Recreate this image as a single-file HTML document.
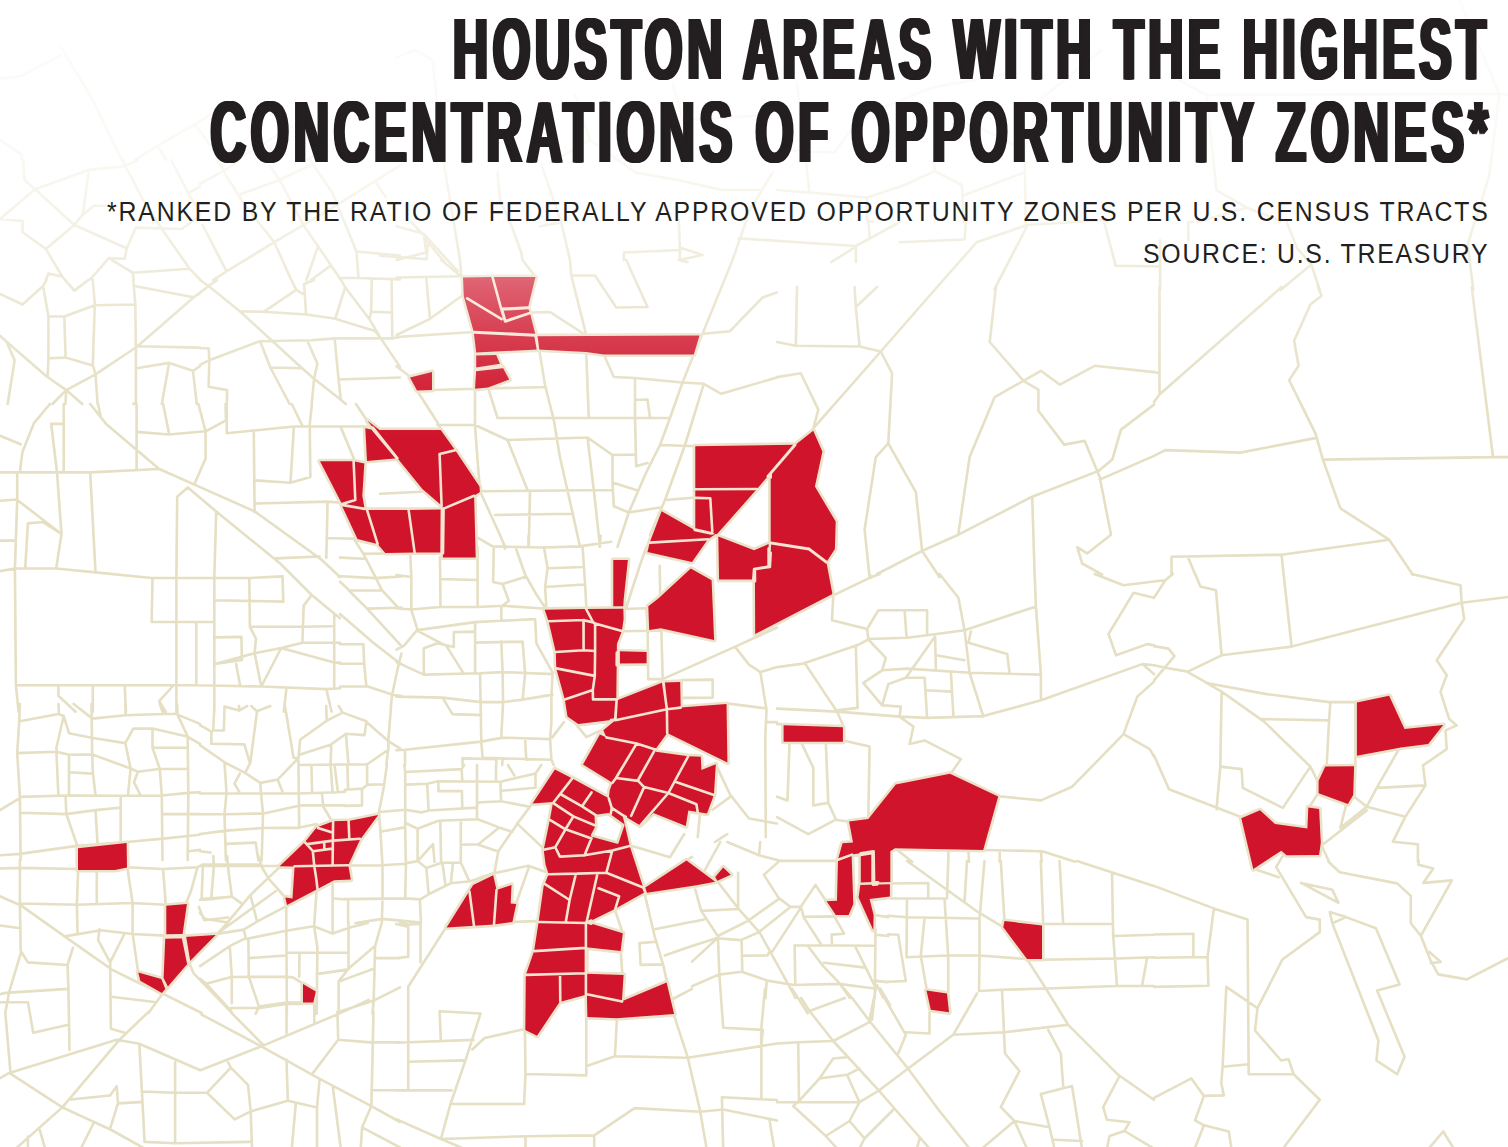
<!DOCTYPE html>
<html><head><meta charset="utf-8"><title>Houston Opportunity Zones</title>
<style>
html,body{margin:0;padding:0;background:#fff;}
body{width:1508px;height:1147px;overflow:hidden;font-family:"Liberation Sans",sans-serif;}
svg{display:block;}
.t{font-family:"Liberation Sans",sans-serif;font-weight:bold;fill:#231f20;}
.s{font-family:"Liberation Sans",sans-serif;font-weight:normal;fill:#231f20;}
</style></head><body>
<svg width="1508" height="1147" viewBox="0 0 1508 1147">
<defs>
<linearGradient id="fade" x1="0" y1="0" x2="0" y2="1">
<stop offset="0" stop-color="#fff" stop-opacity="0.9"/>
<stop offset="0.34" stop-color="#fff" stop-opacity="0.82"/>
<stop offset="0.5" stop-color="#fff" stop-opacity="0.6"/>
<stop offset="0.65" stop-color="#fff" stop-opacity="0.32"/>
<stop offset="0.77" stop-color="#fff" stop-opacity="0.17"/>
<stop offset="0.87" stop-color="#fff" stop-opacity="0.08"/>
<stop offset="1" stop-color="#fff" stop-opacity="0"/>
</linearGradient>
</defs>
<rect width="1508" height="1147" fill="#fff"/>
<path d="M0 139.8 L21.2 154.4 L22 160M134.8 160 L157.8 145.6 L195 124.4 L212.2 113.3M61 46.9 L92.8 100 L121.7 160M195 124.4 L220.9 160M157.8 145.6 L166.1 160M236 160 L265.3 142.4 L291.8 126.5M307.4 160 L318.3 153.1M265.3 142.4 L275.6 160M318.3 153.1 L320.9 160M0 78.8 L21.2 76.1 L61 54.9M0 293.9 L22.5 304.5 L43.1 286 L46.4 280M43.1 286 L48.4 316.5 L48.4 358.2 L47.7 376.8M65 280 L74.3 290.6 L88.2 280M92.8 280 L94.8 304.5 L92.8 364.9 L95.5 374.2 L97.6 404M48.4 316.5 L64.3 316.5 L94.8 305.2 L135.3 304.5M64.3 316.5 L65.6 357.6 L48.4 358.2M65.6 357.6 L92.8 365.5M133.3 280 L135.3 304.5 L135.9 349 L135.9 404M134.6 286 L193.6 297.2 L200 293.3M200 292.6 L193 297.9 L136.6 347 L95.5 374.4 L66.3 390.1 L52.4 404M137.9 346.3 L200 347.6M136.6 368.2 L169.1 362.9 L193 370.8 L200 366.2M169.1 362.9 L161.8 404 L161.8 404M193 370.8 L196.7 404M161.8 404 L161.8 404M0 335.7 L6.6 341.7 L46.4 376.2 L66.3 390.1M6.6 341.7 L14.6 360.2 L7.7 404M66.3 390.1 L65.4 404M66.3 390.1 L82.2 404M135.3 402.7 L133.4 404M200 280 L208.6 286 L239.8 311.2 L272.3 341 L302.1 368.2 L314.1 378.8 L338.6 398 L345.9 404M200 292.6 L208.6 286 L217.2 280M239.8 311.2 L263.7 311.8 L306.1 314.5 L334 318.5 L375.1 331.1 L380.4 337.7M263.7 311.8 L296.2 289.9 L291.5 280M296.2 289.9 L302.8 293.9M314.1 280 L304.1 284 L306.1 314.5M341.2 280 L345.2 287.3 L369.8 319.8 L380.4 337.7 L400 366.9M345.2 287.3 L335.3 318.5M371.8 280 L371.1 311.8 L369.5 319.1M371.1 311.8 L391.6 312.5M391.6 280 L392.3 338.4M200 364.9 L209.3 360.2 L259.7 341.3 L272.3 341 L311.4 340.3 L334.6 338.4 L392.3 338.4 L400 337M200 348.3 L208.6 348.3 L209.3 360.2 L208.6 386.8 L227.2 390.1 L226.9 404M260.3 341.7 L270.3 367.5 L289.6 404M270.3 367.5 L302.1 368.2M307.4 341 L317.4 363.6 L314.1 378.8 L311.7 404M334.6 338.4 L338.6 379.5 L340.6 398M338.6 379.5 L400 377.5M23.2 160 L24.5 179.9 L35.1 189.2 L0 219 L22.5 221 L22.5 232.3 L45.8 248.9 L74.3 225 L35.1 189.2M35.1 189.2 L88.9 169.9 L125.3 166 L137.9 160M123.3 160 L125.3 166 L143.2 199.8 L161.8 229 L189.7 268.8 L200 279.4M88.9 169.9 L82.9 214.4 L74.3 225M82.9 214.4 L94.2 205.8 L106.1 205.8M74.3 225 L126.7 248.2 L135.9 227.6 L181.7 229 L200 215.7M126.7 248.2 L124.7 258.8 L108.8 258.1 L91.5 278 L88.6 280M108.8 258.1 L132.6 272.7 L189.7 268.8M132.6 272.7 L133.7 280M45.8 248.9 L62.3 276.7 L65.3 280M62.3 276.7 L48.4 273.4 L46 280M91.5 278 L92 280M171.1 160 L188.3 193.2 L200 186.5M188.3 193.2 L200 213.1M200 183.9 L223.9 170.6 L239.8 160M217.2 160 L226.5 175.9 L243.8 203.8 L274.3 242.2 L291.3 280M202.7 225 L226.5 271.4 L213.1 280M226.5 271.4 L274.3 242.2 L303.4 225 L332.6 207.7 L375.1 181.2 L400 165.3M239.8 194.5 L279.6 179.9 L310.1 165.3M270.3 166.6 L279.6 179.9 L303.4 225 L318 246.2 L340.6 279.4 L340.9 280M310.1 160 L332.6 193.2 L356.5 251.5 L358.5 278M318 246.2 L306.4 280M311.2 280 L330 266.1M356.5 251.5 L400 255.5M340.6 278 L358.5 278 L400 279.4M371.1 279.4 L371.1 280M391 279.4 L391 280M375.1 181.2 L385.7 197.1M90.2 404 L106.1 423.9 L159.2 469 L192.3 483.6 L254.6 511.4 L321 559.2 L340 577M187.8 487.6 L216.2 511.4 L279.8 563.2 L311.7 595 L334.2 613.5 L340 618.2M0 435.8 L20.7 444.3M19.9 471.9 L22.5 451.7 L34 423.1 L49.9 404M0 472.4 L90.2 472.4 L159.2 469M63.7 404 L63.7 471.9M51.2 423.9 L63.7 423.9M51.2 423.9 L57 472.4 L61.5 534 L56.2 568.5M17.2 472.4 L17.2 500 L14.9 568.5 L15.9 685.2 L18.6 711.7M0 500.8 L17.2 499.5M17.2 500 L61.5 534M25.2 568.5 L27.9 523.4 L42.4 522 L61.5 534M0 540.6 L13.8 540.6M0 571.1 L14.9 568.5 L56.2 568.5 L95.5 572.4 L151.7 578 L249.3 578 L282.5 576.4M90.2 472.4 L95.5 572.4M136.6 404 L136.6 469M98.1 404 L100.8 417.3 L106.1 423.9M136.6 431.9 L169.2 434.5 L205.6 431.3 L226 420.4 L225.5 404M163.1 404 L169.2 434.5M198.4 404 L205.6 431.3 L205.6 458.4 L195 482.8M226.8 404 L226.8 433.2 L293.9 426.5 L367.4 426.5M293.9 426.5 L290.5 482.8 L310.3 476.9 L309.8 426.5M291.8 404 L302.4 425.8M311.9 404 L309.5 426.5M253.8 431.9 L254.6 512.2M254.6 480.4 L290.5 482.8M256 503.5 L327.6 501.6 L342.2 502.7M327.6 501.6 L326.3 557.8M326.3 538 L355.4 538.7M340.8 427.3 L354.9 461M367.4 421.2 L356 404M187.8 487.6 L177.2 496.8 L176.4 578 L176.4 711.7M216.2 512.2 L214.3 578 L214.3 711.7M152.5 578.5 L151.7 622 L214.3 622M196.3 622 L196.3 685.2M214.3 600.3 L282.8 601.6M282.5 576.4 L283.3 601.6M249.3 578 L249.9 626.8 L302.4 626.8 L331.6 626.3M311.7 595 L303.7 605.6 L302.4 642.7M302.4 642.7 L340 642.7M214.3 637.4 L241.4 636.9 L241.9 660 L214.9 663.9M249.9 626.8 L256 638.7 L254.6 653.3 L261.3 686.5M214.9 663.9 L254.6 653.3 L281.2 648 L302.4 642.7M281.2 648 L261.3 686.5M281.2 648 L334.2 662.6 L340 662.6M334.2 613.5 L334.2 687.8M15.9 685.2 L196.3 685.2 L261.3 686.5 L326.3 689.1 L340 688.2M236.1 663.9 L240.1 685.2M275.9 558.4 L319.6 556.5M338.2 576.4 L340 576.4M355.4 538 L356.5 540M58.4 685.7 L58.4 695.8 L75.6 711.7M92.8 685.7 L92.8 711.7M124.7 685.7 L126 711.7M172.4 686.5 L159.2 701.1 L165.8 711.7M286.5 687.8 L283.8 711.7M326.3 689.1 L331.6 711.7M19.9 704 L19.2 721.3 L17.2 753.1 L19.9 796.9 L20.6 860.1M19.9 721.3 L58.4 714 L63.7 716 L69 733.2 L91.5 737.8 L125.3 743.1 L133.3 728.6 L152.5 728.6 L187 736.5 L200 743.8M58.4 704 L59 714M73.6 704 L91.5 717.9M91.5 704 L92.2 754.4 L92.8 771.7 L95.5 795.5M92.8 718.6 L125.3 715.3 L163.1 714 L177.1 714M125.3 704 L125.7 715.3M159.8 704 L163.4 714M177.1 704 L177.5 714.6 L187.7 736.5 L188.3 795.5 L187.7 860.1M177.5 714.6 L200 723.9M63.7 716 L56.4 747.8 L56.4 751.8 L58.4 795.5M17.2 753.1 L56.4 751.8 L69 754.7 L92.2 754.4 L130 768.3 L137.9 771.7 L159.2 769 L187.7 769M69 754.7 L69 795.5M69.6 772.3 L91.5 773.6M125.3 743.1 L130.6 768.3 L128 795.5M137.9 771.7 L134 782.3 L140.6 795.5M152.5 728.6 L152.5 747.8 L159.8 769 L161.8 795.5 L162.5 860.1M152.5 747.8 L187 747.8M19.9 796.9 L66.3 795.5 L119.4 795.8 L161.8 795.5 L188.3 792.9 L200 792.2M0 810.1 L18.6 798.8M65.6 796.2 L66.3 814.1 L76.9 844.6M21.2 812.8 L66.3 814.1 L95.5 810.1 L119.4 807.7M95.5 810.1 L97.5 843.3M120.7 796.2 L120.7 842M162.5 814.1 L200 814.1M0 855.2 L19.9 853.9 L76.9 845.9 L127.3 842 L163.1 838.6 L200 834.7M188.3 851.2 L200 849.9M0 868.5 L19.9 867.9 L78.2 869 L127.3 867.2 L163.1 869 L197.6 867.2 L202.9 864.5 L261.3 864.5M19.9 860 L19.9 904.3 L20.7 950.7M19.9 903.5 L76.9 904.8 L131.3 903 L165.8 904.8M0 896.3 L21.2 905.6 L71.6 941.4 L111.4 969.3 L137.9 982.5 L161.8 993.1 L201.6 1013M0 925.5 L20.7 928.2M66.3 936.1 L100.8 930.3 L132.6 934 L165.8 935.6M96.8 869 L96.8 903.5M78.2 869 L76.9 904.8 L77.5 933.5M127.3 867.2 L132.6 903 L132.6 933.5 L137.9 970.6M163.1 869 L165.8 905.6M197.6 867.2 L191 891 L185.7 904.3M202.9 864.5 L201.6 899 L230.8 896.9M198.9 906.9 L204.2 920.2 L228.1 917.5M275.9 891 L215.6 934.8 L188.9 961.8 L165.8 989.2 L148.5 1013M188.9 962.6 L193.6 973.3 L232.1 1013M200 866 L278.2 866M213.3 856 L213.9 866 L211.3 897.8M227.2 856 L227.9 866 L231.8 896.5 L211.3 899.1 L200 899.8M231.8 896.5 L241.1 903.1M258.4 856 L262.3 868 L268.3 877.9 L250.1 895.4 L225.9 924.3 L214.6 936.9M268.3 877.9 L280.2 866.6M268.3 878.3 L276.9 887.9 L285.5 897.8M200 913.1 L205.3 919 L226.5 922.3M250.4 895.1 L257 921.3M286.9 905.8 L257 921.7 L243.8 929.6 L218.6 933.6M243.8 930 L245.8 938.2 L229.8 946.2 L200 966.1M246.2 938.9 L284.9 931 L313.7 926.3 L332.6 933.6 L349.9 927.6 L367.9 923M286.2 906.4 L286.9 1013.8M316.7 888.5 L314.1 926.3 L317.4 947.5 L316.7 1013.8M332.6 881.2 L332.6 933.6M334.6 898.5 L345 899.5M348.5 923 L348.5 968.8M381.7 923 L375.1 946.2 L373.7 1000.6 L372.4 1013.8M229.8 946.2 L231.8 976.7 L231.8 1003.2M248.4 939.6 L248.8 976.7M248.8 958.1 L286.2 955.5M286.9 952.8 L347.9 952.8M299.5 952.8 L299.2 976.7M205.3 984 L231.2 977 L284.9 976.7 L292.8 977.4 L302.8 983.3M200 978.7 L206.6 984 L231.2 1011.2M248.8 976.7 L259 1006.6 L286.2 1002.6 L303.4 1002.6M259 1006.6 L255.7 1013.8M316.7 974.1 L348.5 969.4M348.5 968.8 L338.6 981.4 L338.6 1013.8M374.4 946.5 L349.2 968.1M339.3 981.4 L373.7 968.8M375.1 958.1 L400 958.1M338.6 1012.1 L373.7 1000.6 L400 987.3M0 994.2 L5.3 992.9 L68.4 988.9M0 1002.2 L27.9 1002.2 L33.2 1032.7 L68.4 1024.7M72.9 947.8 L67.6 965 L68.4 988.9 L69.5 1049.9M21.2 951.8 L27.9 962.4 L67.6 965M21.2 951.8 L9.3 991.5 L5.3 1012.8 L10.6 1073.8M110.1 959.7 L110.9 1028.7 L124.7 1032.7M111.4 996.8 L156.5 1002.2M99.5 929.2 L98.1 939.8 L110.1 962.4 L124.1 934.5M214.3 706 L213.3 730.5 L223.9 730.5 L224.5 706.6 L239.1 710.6 L239.1 706M239.1 710.6 L247.2 706M251.2 706 L257 711.3 L270.3 706M257 711.3 L250.4 762.3 L245.1 772.9M200 725.2 L211.9 731.8M211.3 731.8 L211.3 743.8 L244.4 744.4 L249.7 762.3M200 745.1 L224.5 762.3 L245.1 772.9 L260.3 782.9 L277.6 779.6 L298.1 758.4M224.5 762.3 L226.5 792.8 L224.5 814.1 L225.9 860.5M285 706 L293.5 757.7 L298.1 758.4M239.8 773.6 L234.5 783.6 L239.8 792.8M260.3 782.9 L261 792.8 L263 814.1 L261.7 860.5M277.6 779.6 L282.9 792.8M200 793.5 L261 793.5 L298.1 793.5 L337.9 792.2 L345 791.6M299.2 828 L298.8 793.5 L298.4 758.4 L300.1 739.8 L326 721.2 L342.6 712.6 L338.8 706M326.2 706 L326.7 721.2M342.6 712.6 L366.4 721.2 L364.5 735.1 L345.9 733.8 L331.3 744.4 L300.1 754.4M366.4 721.9 L388.3 741.1M391.1 706 L388.3 741.1 L388.3 749.1 L386.3 765M388.3 741.1 L400 748.4M388.3 749.7 L367.1 764.3 L300.1 765M331.3 744.4 L330.6 765M345.9 733.8 L348.5 765M311.4 765.6 L312.1 792.8M330.6 765 L332.6 792.8M334.6 765.6 L337.9 792.2M367.1 764.3 L367.1 765M322 794.2 L323.3 806.8 L330.6 818.7M299.5 805.4 L345 805.4M200 814.3 L226.5 814.3 L263.7 813.4 L298.8 805.8M200 834 L226.5 830.6 L263 828 L299.5 827.6 L316.7 824M225.9 843.9 L255.7 842.6 L258.4 860.5M200 851.2 L210.6 852.5M0 1078.2 L9.3 1072.9 L116.7 1039.8 L139.3 1043.8 L200.3 1070.3 L261.3 1046.4 L336.9 1014.6 L368.7 1000M148.5 1011.9 L119.4 1039.8 L62.3 1107.4 L15.9 1148.5M9.3 1072.9 L62.3 1107.4 L111.4 1130 L144.6 1148.5M201.6 1014.6 L261.3 1046.4 L318.3 1078.2 L371.4 1106.1 L400 1122M231.6 1013 L263.9 1045.6M230.8 1008 L259.9 1008 L286.5 1004 L303.7 1004M286.5 1004 L286.5 1033.2M314.3 1004 L314.3 1022.5M337.4 1011.9 L338.2 1039.8 L313 1072.9M338.2 1039.8 L370 1042.4 L400 1042.4M373.5 1011.9 L371.4 1106.1 L362.1 1127.3 L360.7 1148.5M362.1 1127.3 L400 1147.5M371.4 1090.2 L400 1090.2M139.3 1043.8 L141.9 1091.5 L144.6 1141.9 L175.1 1143.2 L249.3 1141.9M141.9 1091.5 L175.1 1092.8 L206.9 1092.8 L230.8 1067.6 L248 1084.9 L250.7 1111.4 L252 1148.5M228.1 1062.3 L230.8 1067.6M175.1 1062.3 L175.1 1143.2M206.9 1092.8 L234.7 1119.4 L250.7 1111.4 L287.8 1100.8 L317 1107.4M286.5 1059.7 L287.8 1100.8M319.6 1079.6 L317 1107.4 L317 1148.5M295.8 1103.4 L291.8 1148.5M332.9 1087.5 L340.8 1148.5M70.3 1099.5 L110.1 1095.5 L116.7 1086.2 L118 1103.4 L110.1 1128.6M118 1103.4 L140.6 1102.1M94.2 1122 L80.9 1148.5M39.8 1130 L45.1 1148.5M27.9 1136.6 L27.9 1148.5M443.8 163.8 L448.8 192.5 L460 260M396.5 226.2 L423.8 233.8 L426.2 252.5 L396.5 260M423.8 233.8 L457.5 271.2M497.5 172.5 L500 200 L511.2 225 L521.2 252.5 L522.5 260M541.2 163.8 L550 190 L561.2 222.5 L570 260M561.2 222.5 L540 226.2M623.8 260 L623.8 252.5 L680 250 L679.5 260 L702.5 255 L680 247.5M678.8 220 L680 250M772.5 172.5 L750 210 L732.5 260M635 172.5 L677.5 180 L722.5 190 L760 190M672.5 82.5 L682.5 120 L770 115M396.5 57.5 L415 50 L432.5 60 L443.8 163.8M575 95 L590 140 L550 162.5M590 140 L635 172.5M396.5 608.3 L411.3 609.5 L440 607 L477.6 607 L502.6 605.8 L546.4 608.8M410 547 L411.3 577 L411.3 609.5M440 557 L440.5 607M477.6 547 L477.6 607M396.5 575 L411.3 577M440 579 L476.3 580M493.8 547 L493.1 582 L502.6 584 L526.3 576.5M502.6 584 L508.8 600.8 L502.6 605.8M516.3 549.5 L525.1 574.5 L536.4 594.5 L546.4 609.5M543.9 547 L547.6 568.3 L545.1 587 L546.4 608.3M547.6 568.3 L582.6 567M545.1 587 L583.9 584.5M582.6 547 L585.1 584.5 L586.4 608.3M411.3 610 L417.5 629.6 L403.8 645.8 L396.5 649.6M417.5 630.1 L475.1 622.1 L501.3 620.8 L535.1 619.1M501.3 605.8 L501.3 620.8M475.1 622.1 L475.1 673.3M475.1 642.6 L522.6 641.6M453.8 632.1 L473.8 631.6M453.8 632.1 L453.8 647.1 L437.5 643.3 L423.8 648.3 L423.8 674.6M417.5 630.8 L446.3 645.8 L462.5 671.6M396.5 662.1 L423.8 674.6 L480.1 673.3 L502.6 672.1 L552.6 674.1M501.3 641.6 L502.6 672.1M522.6 641.6 L525.1 673.3 L522.6 699.6M535.1 619.1 L536.4 643.3 L553.1 673.3M480.1 673.3 L480.6 702.1 L481.3 742.1M502.6 672.1 L503.1 702.1 L501.3 737.1M396.5 696.6 L442.5 697.6 L452.5 714.1 L481.3 715.1M442.5 697.6 L480.6 702.1 L503.1 702.1 L522.6 699.6 L552.6 694.6M552.6 674.1 L551.4 694.6 L551.4 722.1 L550.1 739.1M552.1 737.6 L563.9 722.1M396.5 750.2 L405 749.7 L481.3 741.6 L502.6 737.6 L550.1 739.1M405 749.7 L405 765M525.1 738.4 L526.3 759.7M481.3 742.1 L482.6 757.7 L502.6 758.4 L551.4 759.7M550.1 739.1 L551.4 759.7 L553.7 765M555 767.8 L555.6 769.2M462.5 758.4 L462.5 765M462.5 758.4 L496.3 759.2 L496.3 765M502.6 758.4 L502.2 765M572.6 720.1 L586.4 737.1 L601.4 730.1M623.9 609 L646.4 608.3 L647.7 630.8 L620.2 631.3M647.7 630.8 L661.4 630.8 L662.7 679.1 L648.2 679.1 L647.7 630.8M659.7 565.8 L660.7 630.8M646.4 547 L640.2 564.5 L626.4 607M662.7 679.1 L735.3 646.6 L777 627.6M681.5 680.1 L712.7 679.6 L712.7 697.6 L681.5 697.9 L681.5 680.1M735.3 647.1 L749 664.6 L760.3 672.1 L766.5 709.6 L765.3 737.1 L765.8 837.2M760.3 672.1 L777 667.1M765.8 722.1 L777 722.1M726.5 703.4 L766.5 708.4M717.7 768.4 L730.2 794.7 L749 818.5 L777 823.5M731.5 795.9 L712.7 809.7M700.2 812.2 L697.7 837.2M420.5 923 L420.5 962.2M446.4 926.7 L408.2 986.8 L408.2 1090.4 L396.2 1090.4M396.2 924 L408.2 926.7 L408.2 956.7 L396.2 958.1M439.6 1011.3 L480.5 1013.5 L465.5 1060.4 L450.5 1104 L440.9 1139 L396.2 1119.1M439.6 1011.9 L440.9 1041.3M396.2 1042.7 L473.6 1039.9M408.2 1061.8 L464.1 1060.4M408.2 1090.4 L451.8 1090.4M472.3 1049.5 L484.6 1038 L524.9 1029M524.9 1030.4 L525.5 1074 L524.1 1104 L450.5 1104M526 1074 L586.3 1075.4 L586.3 1016.8M586.9 1065.9 L614.9 1056.3 L616.9 1019.5M614.9 1056.3 L687.8 1057.7 L777 1043.5M673.6 1014 L687.8 1057.7 L700.1 1110.9 L706.9 1150.4M440.9 1139 L525.5 1136.2 L594.2 1135.4 L634.6 1108.1 L700.1 1111.7 L723.2 1109.5M525.5 1136.2 L525.5 1150.4M594.2 1135.4 L594.2 1150.4M440.9 1139 L468.2 1150.4M721.9 1097.2 L723.2 1150.4M721.9 1097.2 L777 1100M723.2 1109.5 L777 1120.4M761.4 1044 L761.4 1098.6M645 895.4 L655 937.7 L663.2 964.9 L674.1 1014M615.5 911.7 L622.9 933.3M620.7 951 L622.3 973.7M656.4 941.7 L639.5 943.1 L640.6 964.9 L662.4 964.4M653.7 929.5 L692 921.8M721 998 L723.2 1027.7 L762.8 1029.9 L761.4 1044M664.6 955.4 L692 946M672.8 999 L692 988.8M686.4 860.5 L692 856.9M715 842 L723.2 836.7 L727.3 834M630.5 845.5 L670 857.2 L684.2 834M777 190 L809.5 192.5 L867 197.5 L904.5 185 L934.5 171.2 L962 185 L963.8 222M873 222 L867 220 L867 197.5M934.5 150 L934.5 171.2M964.5 195 L1024.5 172.5M1024.5 150 L1025.7 222M1074.5 222 L1107 220 L1107.3 222M777 150 L834.5 152.5 L859.5 117.5 L932 87.5 L1002 75M797 82.5 L809.5 192.5M1024.5 150 L984.5 130 L957 120M1024.5 150 L1039.5 100 L1102 50M777 342 L795.8 345.8 L859.6 346.5 L880.8 351.5M797 287 L795.8 345.8M854.6 287 L855.8 307 L859.6 346.5M855.8 307 L877.1 287M937.1 287 L880.8 351.5 L813.3 428.4M880.8 351.5 L892.1 373.3 L888.3 443.4 L915.9 492.2 L922.1 550.9 L939.6 577.2M888.3 443.4 L875.8 457.1 L864.6 529.7 L869.6 577.2M777 377.1 L800.8 373.3 L818.3 409.6 L813.3 428.4M995.9 287 L989.7 342 L1023.4 380.8 L1038.4 389.6 L1038.4 410.8 L1064.2 444.6 L1084.7 440.9 L1099.7 477.1 L1111 534.7 L1087.2 553.4 L1077.2 547.2 L1082.2 563.5 L1102.2 574.7M1023.4 380.8 L994.7 397.1 L969.6 457.1 L958.4 533.4M1023.4 380.8 L1040.9 370.8 L1059.7 384.6 L1094.7 365.8 L1154 372.1M877.1 574 L922.1 550.9 L958.4 534.7 L1032.2 496.7 L1098.5 470.9 L1112.3 459.6 L1121 429.6 L1154 404.6M1032.2 496.7 L1034.7 577.2M1099.7 479.6 L1154 455.9M833.3 595.3 L869.6 577.8 L879.6 574M869.6 574 L870.8 577.8M833.3 595.3 L832 620.3 L867.1 629 L878.3 610.3 L927.1 610.3 L927.1 635.3M904.6 610.3 L906.6 637.8M867.1 629 L868.3 639 L907.1 637.8 L927.1 635.3 L964.6 630.3 L1035.9 606.5 L1034.7 574M939.6 574 L958.4 597.8 L964.6 630.3 L969.6 672.8 L983.4 716.6M1035.9 606.5 L1040.9 674.1 L1040.9 700.3M970.9 631.5 L968.4 642.8 L1007.2 654.1 L1009.7 674.1M777 667.1 L803.3 663.6 L857.1 645.3 L868.3 639.5M804.5 662.8 L837 711.6M855.8 645.3 L857.6 707.9 L837 710.4M868.3 639.5 L885.8 657.8 L882.1 670.3 L863.3 682.8 L882.1 705.3 L900.8 706.6 L899.6 716.6M882.1 670.3 L907.1 668.6 L969.6 672.8 L1040.9 674.6M934.1 637.8 L912.1 669.1 L905.8 677.8M935.1 636.5 L935.9 670.3M935.9 655.3 L964.6 660.3M882.1 705.3 L888.3 684.1 L905.8 677.8 L924.6 677.8 L927.1 717.9M925.9 690.3 L952.1 691.6M950.9 672.8 L953.4 715.4M777 708.6 L837 711.6 L899.6 716.6 L927.1 717.9 L983.4 716.1 L1040.9 700.3 L1142.3 664.1 L1154 665.3M837 711.6 L842.5 724.1M899.6 716.6 L913.4 726.6 L909.6 744.1 L924.6 740.4 L960.9 759.1 L950.9 773.4M1142.3 664.1 L1154 674.1M1154 681.6 L1137.3 696.6 L1123.5 734.1 L1072.2 786.7 L1040.9 800.4 L998.4 796.2M1123.5 734.1 L1149.8 749.1 L1154 756.6M1154 581.5 L1123.5 585.3 L1094.7 574M1154 597.8 L1133.5 592.8 L1108.5 634 L1116 655.3 L1147.3 644.1 L1154 645.3M789.5 742.9 L787.5 800.4 L777 796.7M802 744.1 L813.3 767.9 L813.3 805.4 L828.3 802.9M825.8 742.1 L828.3 802.9 L835.8 819.2M843.3 740.4 L869.6 746.6 L868.3 816.7M777 817.2 L808.3 834.2 L835.8 819.7 L849.1 821.7M777 724.1 L783.3 724.1M895.1 848.2 L912.1 861.7M983.2 850 L1042.2 851.2 L1075 861.7M948.4 850.5 L948.4 861.7M968.4 850.5 L969.1 861.7M999.7 851.2 L999.7 861.7M1040.9 851.2 L1041.7 861.7M907 861 L978.2 912.2 L1003.2 927.2M1027 959 L1045.8 988.5 L1068.2 1024.8 L1118.2 1074.8 L1153.8 1099.8M801.2 998 L809.5 1011 L833.2 1041 L878.2 1089.8 L894.5 1108.5 L929.5 1148.5M852.2 998 L869.5 1021 L907 1067.2 L939.5 1111 L969.5 1148.5M884.6 998 L905.8 1034.8 L898.2 1053.5M874.3 998 L872 1019.8M888 915.8 L907 917.2 L979.5 918.5M888 934.3 L898.2 934.8 L905.8 981 L888 981.7M907 898.5 L906.5 956M890.8 898.5 L944.5 898.5 L948.2 956 L948.2 992.2M924.5 918.5 L920.8 956 L927 991M929.5 1012.2 L929.5 1033.5 L905.8 1032.2M889.5 883.5 L928.2 883 L928.2 897.2M906.5 957.2 L947 955.5 L979.5 955.5 L1027 959M984.5 861 L979.5 918.5 L979.5 955.5 L979 991M948.2 861 L947 898.5M967 861 L964.5 902.2M1000.8 861 L1004.5 921M1040.8 861 L1043.2 923.5M1059.5 861 L1063.2 923.5M1043.2 924 L1112 924M1112 873.5 L1113.2 936 L1117 986M1077 861 L1153.8 886M1113.2 936 L1153.8 934.8M1042 959.8 L1117 958.5 L1153.8 957.2M1147 958.5 L1142 986M979 991 L1002 989.8 L1047 988.5 L1117 986 L1153.8 986M977 993.5 L953.2 1034.8 L908.2 1068.5 L878.2 1091M953.2 1034.8 L1004.5 1032.2 L1068.2 1024.8M1002 989.8 L1005 1053.5 L1019.5 1071 L1000.8 1107.2 L1014.5 1121 L1027 1148.5M1014.5 1121 L982 1148.5M1048.2 1029.8 L1060.8 1053.5 L1063.2 1086M1072 1086 L1040.8 1094 L1049.5 1127.2 L1014.5 1121M1072 1086 L1082 1148.5M1049.5 1127.2 L1054.5 1148.5M1054.5 1139.8 L1082 1141M1119.5 1076 L1103.2 1107.2 L1107 1119.8 L1129.5 1122.2 L1124.5 1131 L1153.8 1148.5M1124.5 1131 L1109.5 1136 L1107 1148.5M777 1043.5 L798.2 1042.2 L832 1041M798.2 1042.2 L799 1101M809.5 1011 L844.8 998M833.2 1041 L869.5 1022.2M833.2 1058.5 L847 1057.2M799 1101 L819.5 1078.5 L833.2 1058.5M819.5 1078.5 L847 1074.8 L859.5 1068.5M847 1074.8 L859.5 1102.2 L777 1102.2M793.2 1106 L825.8 1136 L837 1148.5M793.2 1106 L799 1101M859.5 1102.2 L849.5 1121 L825.8 1136M859.5 1102.2 L878.2 1091M894.5 1108.5 L864.5 1138.5 L859.5 1148.5M849.5 1121 L864.5 1138.5M919.5 1138.5 L917 1148.5M1179 80.1 L1206.5 95.1 L1499.3 93.8 L1508 95.1M1459.2 0 L1499.3 93.8 L1489.3 175.1 L1475.2 222M1206.5 95.1 L1216.5 190.1 L1246.6 207.7 L1279.1 220.2 L1280.1 222M1246.6 207.7 L1197.5 222M1159.5 287 L1159.5 394.6M1154 372.1 L1159.5 373.3M1154 402.1 L1159.5 394.6 L1281.6 287M1317.9 287 L1321.6 295.8 L1310.4 304.5 L1294.1 340.8 L1298.6 365.8 L1289.1 380.1 L1315.4 433.4 L1322.9 459.6 L1340.4 508.4 L1389.2 539.7 L1412.9 574.7M1154 455.9 L1165.3 450.1 L1240.3 452.6 L1316.6 437.9M1322.9 459.6 L1493 457.1 L1508 457.1M1471.7 287 L1493 457.1M1389.2 539.7 L1281.6 554.7 L1171.5 556.7 L1171.5 574.7M1187.8 556.7 L1195.3 574.7M1281.6 554.7 L1283.6 574.7M1154 581.5 L1165.3 580.3 L1172.8 574M1165.3 580.3 L1154 597.8M1195.3 574 L1200.3 586.5 L1216 590.3 L1221.6 655.3M1283.6 574 L1291.6 646.6M1154 646.1 L1168.5 648.6 L1174.5 656.1 L1154 680.3M1154 665.3 L1165.3 667.8 L1187.8 671.6 L1221.6 655.3 L1291.6 646.6 L1461.7 602.8 L1508 597M1411.7 574 L1460.5 585.3 L1461.7 602.8 L1464.2 619 L1436.7 660.3 L1446.7 675.3 L1440.5 691.6 L1449.2 719.1 L1456.7 725.4 L1445.5 730.4 L1446.7 749.1 L1423 765.4 L1425.5 785.4 L1405.4 816.7 L1392.9 841.7 L1417.9 844.2 L1417.9 861.7M1187.8 672.1 L1207.8 683.3 L1266.6 694.1 L1329.1 702.1 L1356.7 702.1M1206.5 682.8 L1221.6 691.6 L1220.3 766.6 L1216.5 809.2M1221.6 691.6 L1264.1 721.6 L1310.4 766.6 L1319.1 784.2M1261.6 719.1 L1329.1 720.4M1330.4 702.1 L1329.1 720.4 L1326.6 766.6M1355.4 702.1 L1355.4 766.6M1154 755.4 L1169 789.2 L1240.3 816.7M1220.3 766.6 L1241.6 769.1 L1242.8 787.9 L1282.8 807.9 L1310.4 766.6M1319.1 791.7 L1307.9 809.2M1354.2 796.7 L1366.7 806.7 L1405.4 816.7M1400.4 746.6 L1376.7 787.9 L1366.7 806.7 L1340.4 827.9 L1346.6 802.9M1376.7 787.9 L1425.5 785.4M1366.7 810.4 L1321.6 845.5 L1329.1 861.7M1285.3 851.7 L1276.1 867.2M1154 885.9 L1213.8 908.4 L1247.5 919.6 L1248.7 1074.2 L1293.6 1074.2M1213.8 908.4 L1207.6 957 L1208.4 985.7 L1154 986.9M1154 934.5 L1193.4 933.8 L1193.4 957M1154 957.7 L1207.6 957M1252.5 868.5 L1278.7 877.2M1276.2 867.2 L1306.1 917.1 L1319.8 919.6 L1319.8 932.1 L1282.4 959.5 L1257.5 1008.1 L1255 1030.5 L1281.2 1060.5 L1288.6 1059.2 L1293.6 1074.2 L1319.8 1099.8 L1283.6 1147.7M1257.5 1008.1 L1226.3 986.9 L1222.6 1066.7 L1248.7 1064.2M1222.6 1066.7 L1221.3 1082.9 L1223.8 1095.4 L1203.9 1095.9 L1191.4 1078.4 L1154 1097.8M1203.9 1095.9 L1195.1 1120.3 L1203.9 1125.3 L1228.8 1131.5 L1231.3 1147.7M1203.9 1125.3 L1195.1 1147.7M1328.5 861.7 L1339.7 872.2 L1397.1 883.4 L1410.8 895.9 L1410.8 923.3 L1420.8 935.8 L1430.7 960.7 L1438.2 974.4 L1466.9 979.4 L1508 958.2M1420.8 935.8 L1451.9 880.4 L1423.3 882.9 L1433.2 868.5 L1418.3 864.7 L1418.8 861M1429.5 952 L1440.7 962 L1430.7 963.2M1301.1 882.9 L1332.3 889.7 L1338.5 902.9 L1301.1 882.9M1329.8 912.1 L1346 917.1 L1375.9 928.3 L1399.6 984.4 L1377.1 990.6 L1404.6 1056.7 L1397.1 1074.2 L1376.4 1060.5 L1378.4 1040.5 L1332.3 923.3 L1329.8 912.1M1332.3 923.3 L1346 917.1M1429.5 1147.7 L1443.2 1131.5 L1453.2 1147.7M720.3 842 L704.6 870.7M727.3 842 L759 855.3 L779.3 860.6 L836.4 860.9M760.2 842 L759 855.3M778.6 861.6 L763.9 874.9 L778.6 897.9 L790.4 906.7 L800.2 906.9M779.3 898.6 L747.9 920.9 L717.9 936M790.4 906.9 L759 932.1 L740.9 940.1 L716.5 938.3 L692 946.1M738.1 872.8 L738.1 909 L701.2 910.9 L695.3 889.5M695.3 889.5 L701.2 910.9 L717.9 936.2M717.2 881.1 L738.1 908.3 L759.7 932.7 L770.2 951.6 L793.2 993.4 L795.5 998M692 921.9 L703.9 919.5M716.5 939 L692 961.6M717.9 936.2 L719.3 973.9 L721.1 998M741.6 939.7 L742.3 971.8M742.3 955.8 L767.4 955.5 L770.2 950.9M692 986.2 L718.6 974.6 L741.6 971.8 L767.4 980.6 L793.9 985 L838.5 983.9 L874.8 988.5M766.7 980.2 L765.5 998M800.9 907.6 L772.3 951.6M800.9 906.7 L815.5 884.9 L826 901.1M801.6 909 L803.7 917.4 L821.1 944.3M803.7 916.7 L833.7 916.4M834.4 916.7 L844.1 933.7 L831.6 934.6 L832 944.3M794.6 945.3 L874.1 945.7M794.6 945.3 L795.3 984.4M808.5 946.7 L823.2 966.2 L839.9 983.7 L849.9 998M823.9 962.7 L865.7 967.6M855.3 946.7 L865.7 967.6 L875.5 987.8M875.5 929.3 L874.8 998M876.2 915.3 L888 917.1M876.2 934.8 L888 936M876.2 980.9 L888 982.1M876.9 985 L883.4 998M765 988.6 L761.2 1029.7 L761.2 1044.8M792 988.6 L807.7 1013.3M844 988.6 L851.5 997.5M875.9 988.6 L869.3 1020.8M880.3 988.6 L890 1005.1M769.4 1119.4 L774.2 1148.8M478 537.9 L492.5 546.4 L543.4 547.5 L579.5 546.4 L611.3 541.8M380 493.8 L421.4 491.7M503.1 546.4 L505.2 548.5M528.5 535.8 L528.5 547.5M599.6 546.4 L600.7 535.8M354.6 540 L363.4 553.9 L375.2 576.6 L381.7 589.8 L398.6 608.1 L401.5 609.1M401.5 653.4 L398.6 664.5 L392 695.3 L390.7 708M364.2 553.9 L384.7 553.5M340 557.6 L364.9 558.7M340 576.3 L375.9 578.1 L401.5 576.4M340 581.7 L349.5 590.5 L380.7 590.5M348.8 590.5 L367.1 608.6 L399.3 607.7 L401.5 607.6M367.1 608.6 L401.5 646.1M340 614 L373 642.5 L399.3 663 L401.5 664.1M340 644.3 L363.4 644.3M363.4 644.3 L364.2 663.8 L366.4 686.5M340 663.8 L363.4 663.8M340 686.5 L367.1 686.2 L393.5 695 L401.5 696M900 242.3 L964.5 239.5 L965.9 222M934.5 290 L976.6 242.3 L1027 225 L1074.9 222M1104.1 222 L1115.7 265.7 L1160.1 266.5M1027 226.2 L994.8 288.7 L994.6 290M1160.1 240.3 L1160.1 290M1188.3 240.3 L1188.3 222.2 L1193 222M1286.7 222 L1297.2 248.4 L1311.3 264.5 L1319.8 290M1311.3 264.5 L1280.5 290M1474.6 222.2 L1467.7 244.4 L1473.3 290M738.6 238.4 L855.9 246 L899.8 222M855.9 246.7 L831.4 262M855.9 246.7 L855.9 262M868.4 222 L869.7 239.1M380 255.7 L426.6 259.1 L428.3 239.8 L411.1 222M426.6 240.9 L444.6 262M400.2 923 L408.2 924.6 L420.7 923.6M386.9 765 L383.9 786.4 L378.8 812.7 L380.3 828.8 L382.5 865.5 L382.5 900.6 L381.8 923M404.3 765 L405.2 771.7 L405.2 827.4 L405.9 865.5 L405.2 898.4M347.4 765 L348.1 788.6M367.1 765 L367.1 784.9 L383.9 784.2M345 789.7 L362.7 788.6 L367.1 784.9M362 788.6 L362 805.4 L345 805.9M379.5 812 L405.2 809.8 L421.3 812.4 L428.6 810.5 L477 807.6 L477.7 802.5 L501.1 801.3 L529 806.6M405.6 772 L461.6 769.1 L464.2 765M405.9 784.6 L427.2 783.7 L438.1 781.2 L500.4 781.7 L535.5 773.5 L541.3 765M427.2 783.7 L428.6 810.5M438.4 782 L438.4 791.1 L461.9 791.1 L462.3 807.6M461.6 769.1 L462.3 781.2M477 765 L477 818.6M496 765 L496 781.2M507.9 765 L514.3 775.4M500.4 781.7 L501.1 801.3M501.1 790.8 L535.5 787.8 L535.5 773.5M405.9 823.3 L417.6 828.8 L438.4 820.8 L477.7 819.3 L498.9 827.4 L512.1 831.8M417.6 828.8 L417.6 861.1 L405.9 863.3M417.6 861.1 L426.4 868.1 L441.8 862.8 L460.8 862.5M417.6 861.1 L433 844.2 L434.5 861.8M440.3 821.5 L441.1 862.5M460.8 820.8 L460.8 862.5 L469.6 881.6M461.6 844.7 L478.4 844.2 L498.9 827.7M478.4 844.7 L498.2 851.5M426.4 868.4 L428.6 894M442.5 863.3 L445.5 885.2M452.8 864 L451 882.3M351 865.5 L382.5 865.2 L405.9 863.7M380.3 831.8 L404.4 827.4M345 899.1 L405.2 898.4 L420.6 899.4 L429.1 894 L450.6 883.3 L470.4 881.3 L493.1 873.1M419.8 899.4 L421 923M348.1 900.6 L348.1 923M355.4 923 L382.5 918.9 L420.6 922.6M512.1 831.8 L517.2 823.7 L530.4 806.1M518 824.4 L543.6 848.6M511.4 832.1 L498.2 851.5 L494.5 872.8M495.3 873.1 L528.2 865.8 L548 872.8M529 866.9 L515.8 904.3M513.6 921.9 L537 921.1M396.5 277.5 L463 276.2M460 260 L461.2 276.2M441.2 260 L458.8 274.5M426.2 277.5 L430 318.8M396.5 335 L430 318.8 L463 295M396.5 337 L473.8 332M396.5 366.2 L411.2 377.5 L417 390.5 L437.5 422.5 L441.2 430M417 390.5 L475 388.8 L545 387M476.2 352.5 L475 388.8 L475 425 L477.5 460 L480 490M488.8 390 L497.5 418 L670 418M537 336.2 L545 385 L553.8 420 L560 457.5 L572.5 512.5 L580 546.8M522.5 260 L535.5 277M570 260 L571.2 275 L586.2 335M571.2 275.5 L595 275.5 L616.2 307.5 L647.5 307 L626.2 260M586.2 352 L588.8 418M603.8 354.5 L613.8 377 L635 378 L682.5 382.5M635 378 L635 417.5 L636.2 466.2 L647.5 463M635 400 L647.5 399.5 L650 418M732.5 260 L702.5 333.8 L693.8 354.5 L682.5 382.5 L670 418 L660 445 L646.2 472.5 L628.8 512.5 L617.5 546.8M702.5 333.8 L730 331.2 L762.5 297.5 L776.8 292.5M678.8 260 L687.5 262M682.5 382.5 L703.8 383.8 L721.2 393.8 L776.8 377.5M703.8 383.8 L685 445 L665 500 L650 535M660 445 L696.2 446.2M437.5 425 L475 425 L507.5 440 L527.5 490M507.5 440 L587.5 437.5 L612.5 455 L635 454.5M587.5 437.5 L593.8 490 L600 546.8M612.5 455 L612.5 482.5 L636.2 490M612.5 482.5 L613.8 506.2 L628.8 512.5M480 491.2 L612.5 490M530 491.2 L528.8 546.8M480 491.2 L500 535 L505 546.8M495 515 L572.5 513.8M665 500 L696.2 497.5M628.8 512.5 L660 507.5M532.5 312.5 L550 312 L585.5 335" fill="none" stroke="#e5dfc3" stroke-width="2.6" stroke-linejoin="round" stroke-linecap="round"/>
<path d="M367.5 420.8 L379.6 430 L440.7 430 L455.2 450.3 L439.6 454.1 L441.6 505.6 L422.4 489.1 L397.4 458.3ZM365.3 428.3 L373.3 430 L397.1 458.3 L367 461ZM439.6 454.1 L455.2 450.3 L479.5 486.6 L479.9 491.9 L474.1 495.8 L443.6 508.6 L441.6 505.6ZM443.6 508.6 L474.1 495.8 L475.7 557.4 L442.9 557.4ZM408.6 509.9 L441.9 509.6 L441.6 552.4 L414.6 552.4ZM367 509.9 L408.6 509.9 L414.6 552.4 L385.3 552.9 L377.6 543.9ZM341.6 504.9 L364.6 508.9 L367 509.9 L377.6 543.9 L357.5 539.1ZM320 461.3 L353.6 461.3 L355.3 499.9 L342 503.9ZM353.6 461.3 L364.3 463.6 L362.3 495.8 L364.6 508.9 L341.6 504.9 L342 503.9 L355.3 499.9ZM548.6 874.3 L577.4 873.7 L606.3 872.8 L643.2 887.5 L645.2 892 L615.3 908.8 L587.4 922.5 L622.8 933.3 L620.6 951.1 L586.3 947.3 L585.9 973.8 L623.6 974.9 L621.9 1001.2 L666.6 982.4 L674.1 1014.1 L616.6 1018.2 L587.4 1016.9 L586.9 994.6 L562.5 1001.2 L559.6 1001.9 L537 1035.7 L525.3 1029.9 L525.8 974.9 L534.1 951.1 L538.6 922 L543.6 886.6ZM644.2 888.3 L686.5 860.5 L715.2 881.7 L696.5 885.3 L645.6 893ZM715.2 877 L723.2 867.5 L730.7 874.7 L717.4 880.8ZM544.7 609.7 L586.1 609 L593.3 622.5 L583.5 620 L548.6 621.3ZM586.1 609 L623.3 608.7 L623.6 619.1 L621.9 631.1 L595.1 623.5 L593.3 622.5ZM548.6 621.3 L583.5 620 L583.6 650.3 L555.8 652ZM583.6 620.3 L593.3 622.5 L595.1 623.5 L595.1 651 L583.6 650.3ZM555.8 652 L583.6 650.3 L595.1 651 L594.8 675.9 L556.3 668.4ZM556.3 668.4 L594.8 675.9 L592.8 690.1 L564.8 699.4ZM595.1 623.5 L621.9 631.1 L616.9 644.1 L616.3 699.3 L593 699.4 L592.8 690.1 L594.8 675.9 L595.1 651ZM564.8 699.4 L592.8 690.1 L593 699.4 L616.3 699.3 L616.6 700.6 L615.1 719.6 L578.3 724.1 L567.5 716.6ZM618.6 651.3 L646.6 652 L646.6 663.3 L618.6 663.6ZM616.6 700.6 L663.2 682.3 L665.2 696.6 L666.9 709.3 L615.4 720.2ZM663.6 682.6 L680.2 681.9 L680.7 707.6 L666.9 709.3 L665.2 696.6ZM613.3 560 L627.9 560 L623.6 600 L623.3 606.3 L613.3 606.3ZM666.9 709.3 L680.7 707.6 L726.5 704.1 L727.4 762.4 L667.2 732.9ZM603.3 730.2 L615.4 720.2 L666.9 709.3 L667.2 732.9 L655.2 749.4 L636.6 743.6 L606.6 737.4ZM599.9 734.6 L606.5 737.6 L636.6 743.6 L655.2 749.4 L655.9 751.8 L688.3 756.2 L700.8 756.8 L701.4 769.9 L715.8 764.3 L713.9 794.9 L707 813.6 L697.7 812.1 L688.3 810.4 L685.8 826 L653.4 812.9 L640.3 825.4 L622.3 814.8 L611.7 807.9 L608.8 798.3 L609.8 789.9 L612.5 782.8 L583 764.6ZM554.9 769.5 L572.4 778.4 L608.8 798.3 L611.7 807.9 L622.3 814.8 L624.8 824.8 L629.7 846 L643.2 887.5 L606.3 872.8 L577.4 873.6 L548.7 874.3 L545.6 864.7 L543.7 849.7 L549.9 819.8 L553.1 802 L532.5 803.6ZM695.3 446.3 L794.9 444.7 L756.9 489 L695.3 489.3ZM695.3 489.3 L756.9 489 L716.9 534.3 L695.3 529.6ZM813.2 430.8 L822.4 451.6 L814.9 486.6 L835.7 521.6 L834.9 549.1 L826.5 562.1 L809 548.7 L770.7 542.8 L770.7 473.3 L795.2 445ZM661.6 511.3 L694.6 529.9 L715.3 534.3 L707.9 539.3 L649.7 542.6ZM649.7 542.6 L707.9 539.3 L692 561.9 L647.5 551.9ZM718.3 536.6 L754.1 550.2 L768.6 544.1 L768.6 566.6 L754.1 569.1 L753.3 579.6 L719.1 579.6ZM771.2 543.3 L809 549.1 L826.5 562.4 L832.4 594.1 L755.2 634 L754.9 569.1 L769.9 566.9ZM690.8 568.6 L711.6 580.2 L714.1 639.9 L660.8 628.2 L649.2 629.9 L648.3 606.2 L658.3 598.5ZM849.1 821.6 L868.3 819.1 L895.8 784.6 L949.9 773.8 L998.2 796.6 L983.2 849.9 L894.9 848.3 L890.3 851.3 L890.3 881.9 L874.1 882.4 L873.6 851.3 L852 854.6 L838 859.6 L842.5 843.3 L853 842.4ZM860.8 854.9 L872.6 852.9 L872.6 881.9 L860.8 882.6ZM838 859.9 L851.6 854.9 L853.3 904.1 L848.6 914.9 L835.8 914.9 L826.6 901.2 L837 900.7ZM860.3 884.9 L889.9 884.2 L889.9 896.6 L869.6 899.1 L873.6 914.9 L873.3 929.9 L858.6 897.4ZM783.6 725.3 L842.9 727.3 L842.9 741.7 L783.6 741.7ZM1356.9 702.5 L1389.1 695.8 L1404.5 729.1 L1443.2 725 L1428.2 744.1 L1400.7 747.5 L1356.9 755.8ZM1325.3 766.6 L1354.1 766.3 L1353.2 794.9 L1347.9 804.1 L1318.6 793.3 L1318.6 780.8ZM1241.3 818.2 L1260 810.2 L1275 824.1 L1307.4 828.6 L1308.3 807.4 L1319.1 809.1 L1320.8 842.4 L1319.1 854.9 L1286.6 855.2 L1281.3 850.7 L1253.3 869ZM1004.5 921 L1042 925.5 L1042 959 L1027 959 L1003.3 927.3ZM926.5 990.5 L947 993.5 L949 1012.3 L930.8 1009.8ZM78 848.3 L126.6 843 L127 867.5 L115 870 L78 870ZM166.3 905.8 L186.9 904.1 L182.4 935.2 L166.3 935.6ZM165.3 937.4 L182.9 936.9 L188.2 962.9 L167.9 986.5 L163.6 977.9ZM184.9 936.9 L215.7 934.9 L189.1 961.9ZM279.6 866.3 L305 842 L316.6 827.5 L333.3 821.3 L349.9 820.8 L378.2 815 L359.9 840 L348.3 865.3 L350.8 879.6 L334.1 880.3 L317.5 889.1 L287 904.9 L285.3 897.4 L292.5 898.6 L294.6 866.6ZM138.3 972.4 L161.3 979.1 L165.3 989.1 L161.9 992.9 L140.3 980.8ZM446.6 927.5 L473.2 885 L493.2 875.3 L496.5 890 L511.5 885 L510.7 903.6 L516.2 904.1 L512.4 922 L494 924.6 L474 925.8ZM303 984.1 L315.8 991.6 L313.3 1002.4 L303 1002.4ZM463 277.5 L492.5 277 L501.2 308.8 L505 321.2 L463.8 296.2ZM492.5 277 L535.5 277 L528 307.5 L501.2 308.8ZM502 309.5 L528 308 L530 313 L505.5 321.5ZM463.8 296.2 L505 321.2 L530 313 L535.5 335 L473.8 332ZM473.8 332.5 L535.5 335.5 L538 349.5 L476.2 352.5ZM536.2 336.2 L699.5 335.5 L693.8 354.5 L603.8 354.5 L586.2 352 L538 349.5ZM476.2 355.5 L496.2 355 L500.5 365 L476.2 368.8ZM476.2 370 L502.5 367 L509.2 379.5 L488 387.5 L475 388.8ZM410 377.5 L432 372 L432 390 L417 390.5Z" fill="none" stroke="#ece2ca" stroke-width="5.2" stroke-linejoin="round"/>
<path d="M367.5 420.8 L379.6 430 L440.7 430 L455.2 450.3 L439.6 454.1 L441.6 505.6 L422.4 489.1 L397.4 458.3ZM365.3 428.3 L373.3 430 L397.1 458.3 L367 461ZM439.6 454.1 L455.2 450.3 L479.5 486.6 L479.9 491.9 L474.1 495.8 L443.6 508.6 L441.6 505.6ZM443.6 508.6 L474.1 495.8 L475.7 557.4 L442.9 557.4ZM408.6 509.9 L441.9 509.6 L441.6 552.4 L414.6 552.4ZM367 509.9 L408.6 509.9 L414.6 552.4 L385.3 552.9 L377.6 543.9ZM341.6 504.9 L364.6 508.9 L367 509.9 L377.6 543.9 L357.5 539.1ZM320 461.3 L353.6 461.3 L355.3 499.9 L342 503.9ZM353.6 461.3 L364.3 463.6 L362.3 495.8 L364.6 508.9 L341.6 504.9 L342 503.9 L355.3 499.9ZM548.6 874.3 L577.4 873.7 L606.3 872.8 L643.2 887.5 L645.2 892 L615.3 908.8 L587.4 922.5 L622.8 933.3 L620.6 951.1 L586.3 947.3 L585.9 973.8 L623.6 974.9 L621.9 1001.2 L666.6 982.4 L674.1 1014.1 L616.6 1018.2 L587.4 1016.9 L586.9 994.6 L562.5 1001.2 L559.6 1001.9 L537 1035.7 L525.3 1029.9 L525.8 974.9 L534.1 951.1 L538.6 922 L543.6 886.6ZM644.2 888.3 L686.5 860.5 L715.2 881.7 L696.5 885.3 L645.6 893ZM715.2 877 L723.2 867.5 L730.7 874.7 L717.4 880.8ZM544.7 609.7 L586.1 609 L593.3 622.5 L583.5 620 L548.6 621.3ZM586.1 609 L623.3 608.7 L623.6 619.1 L621.9 631.1 L595.1 623.5 L593.3 622.5ZM548.6 621.3 L583.5 620 L583.6 650.3 L555.8 652ZM583.6 620.3 L593.3 622.5 L595.1 623.5 L595.1 651 L583.6 650.3ZM555.8 652 L583.6 650.3 L595.1 651 L594.8 675.9 L556.3 668.4ZM556.3 668.4 L594.8 675.9 L592.8 690.1 L564.8 699.4ZM595.1 623.5 L621.9 631.1 L616.9 644.1 L616.3 699.3 L593 699.4 L592.8 690.1 L594.8 675.9 L595.1 651ZM564.8 699.4 L592.8 690.1 L593 699.4 L616.3 699.3 L616.6 700.6 L615.1 719.6 L578.3 724.1 L567.5 716.6ZM618.6 651.3 L646.6 652 L646.6 663.3 L618.6 663.6ZM616.6 700.6 L663.2 682.3 L665.2 696.6 L666.9 709.3 L615.4 720.2ZM663.6 682.6 L680.2 681.9 L680.7 707.6 L666.9 709.3 L665.2 696.6ZM613.3 560 L627.9 560 L623.6 600 L623.3 606.3 L613.3 606.3ZM666.9 709.3 L680.7 707.6 L726.5 704.1 L727.4 762.4 L667.2 732.9ZM603.3 730.2 L615.4 720.2 L666.9 709.3 L667.2 732.9 L655.2 749.4 L636.6 743.6 L606.6 737.4ZM599.9 734.6 L606.5 737.6 L636.6 743.6 L655.2 749.4 L655.9 751.8 L688.3 756.2 L700.8 756.8 L701.4 769.9 L715.8 764.3 L713.9 794.9 L707 813.6 L697.7 812.1 L688.3 810.4 L685.8 826 L653.4 812.9 L640.3 825.4 L622.3 814.8 L611.7 807.9 L608.8 798.3 L609.8 789.9 L612.5 782.8 L583 764.6ZM554.9 769.5 L572.4 778.4 L608.8 798.3 L611.7 807.9 L622.3 814.8 L624.8 824.8 L629.7 846 L643.2 887.5 L606.3 872.8 L577.4 873.6 L548.7 874.3 L545.6 864.7 L543.7 849.7 L549.9 819.8 L553.1 802 L532.5 803.6ZM695.3 446.3 L794.9 444.7 L756.9 489 L695.3 489.3ZM695.3 489.3 L756.9 489 L716.9 534.3 L695.3 529.6ZM813.2 430.8 L822.4 451.6 L814.9 486.6 L835.7 521.6 L834.9 549.1 L826.5 562.1 L809 548.7 L770.7 542.8 L770.7 473.3 L795.2 445ZM661.6 511.3 L694.6 529.9 L715.3 534.3 L707.9 539.3 L649.7 542.6ZM649.7 542.6 L707.9 539.3 L692 561.9 L647.5 551.9ZM718.3 536.6 L754.1 550.2 L768.6 544.1 L768.6 566.6 L754.1 569.1 L753.3 579.6 L719.1 579.6ZM771.2 543.3 L809 549.1 L826.5 562.4 L832.4 594.1 L755.2 634 L754.9 569.1 L769.9 566.9ZM690.8 568.6 L711.6 580.2 L714.1 639.9 L660.8 628.2 L649.2 629.9 L648.3 606.2 L658.3 598.5ZM849.1 821.6 L868.3 819.1 L895.8 784.6 L949.9 773.8 L998.2 796.6 L983.2 849.9 L894.9 848.3 L890.3 851.3 L890.3 881.9 L874.1 882.4 L873.6 851.3 L852 854.6 L838 859.6 L842.5 843.3 L853 842.4ZM860.8 854.9 L872.6 852.9 L872.6 881.9 L860.8 882.6ZM838 859.9 L851.6 854.9 L853.3 904.1 L848.6 914.9 L835.8 914.9 L826.6 901.2 L837 900.7ZM860.3 884.9 L889.9 884.2 L889.9 896.6 L869.6 899.1 L873.6 914.9 L873.3 929.9 L858.6 897.4ZM783.6 725.3 L842.9 727.3 L842.9 741.7 L783.6 741.7ZM1356.9 702.5 L1389.1 695.8 L1404.5 729.1 L1443.2 725 L1428.2 744.1 L1400.7 747.5 L1356.9 755.8ZM1325.3 766.6 L1354.1 766.3 L1353.2 794.9 L1347.9 804.1 L1318.6 793.3 L1318.6 780.8ZM1241.3 818.2 L1260 810.2 L1275 824.1 L1307.4 828.6 L1308.3 807.4 L1319.1 809.1 L1320.8 842.4 L1319.1 854.9 L1286.6 855.2 L1281.3 850.7 L1253.3 869ZM1004.5 921 L1042 925.5 L1042 959 L1027 959 L1003.3 927.3ZM926.5 990.5 L947 993.5 L949 1012.3 L930.8 1009.8ZM78 848.3 L126.6 843 L127 867.5 L115 870 L78 870ZM166.3 905.8 L186.9 904.1 L182.4 935.2 L166.3 935.6ZM165.3 937.4 L182.9 936.9 L188.2 962.9 L167.9 986.5 L163.6 977.9ZM184.9 936.9 L215.7 934.9 L189.1 961.9ZM279.6 866.3 L305 842 L316.6 827.5 L333.3 821.3 L349.9 820.8 L378.2 815 L359.9 840 L348.3 865.3 L350.8 879.6 L334.1 880.3 L317.5 889.1 L287 904.9 L285.3 897.4 L292.5 898.6 L294.6 866.6ZM138.3 972.4 L161.3 979.1 L165.3 989.1 L161.9 992.9 L140.3 980.8ZM446.6 927.5 L473.2 885 L493.2 875.3 L496.5 890 L511.5 885 L510.7 903.6 L516.2 904.1 L512.4 922 L494 924.6 L474 925.8ZM303 984.1 L315.8 991.6 L313.3 1002.4 L303 1002.4ZM463 277.5 L492.5 277 L501.2 308.8 L505 321.2 L463.8 296.2ZM492.5 277 L535.5 277 L528 307.5 L501.2 308.8ZM502 309.5 L528 308 L530 313 L505.5 321.5ZM463.8 296.2 L505 321.2 L530 313 L535.5 335 L473.8 332ZM473.8 332.5 L535.5 335.5 L538 349.5 L476.2 352.5ZM536.2 336.2 L699.5 335.5 L693.8 354.5 L603.8 354.5 L586.2 352 L538 349.5ZM476.2 355.5 L496.2 355 L500.5 365 L476.2 368.8ZM476.2 370 L502.5 367 L509.2 379.5 L488 387.5 L475 388.8ZM410 377.5 L432 372 L432 390 L417 390.5Z" fill="#cf142b"/>
<path d="M595.8 816.1 L608.3 814.3 L623.3 825 L617.3 842.5 L592.1 835.4 L596.3 827.3Z" fill="#fff" stroke="#e5dfc3" stroke-width="2.6" stroke-linejoin="round"/>
<path d="M538.6 922 L585.6 923M585.9 922.6 L585.9 994.9M534.1 951.1 L585.9 947.9M525.8 974.9 L585.9 973.3M560 974.1 L560.3 1001.6M586.9 994.2 L622.1 1001.6M545 884.2 L569.6 900M575.8 874.3 L569.6 900 L565.8 922M597.4 874 L586.6 922M598.6 888.3 L619.1 896.3 L615.3 908.8M636.6 743.6 L616 778 L612.5 782.8M655.2 749.4 L637.8 780.5M616 778 L638.2 780.9 L644.1 787.1 L668.4 793 L696.4 804.2 L697.7 812.1M644.1 787.1 L631.2 815.8M688.1 756.5 L668.4 793 L640.6 825.2M675.2 781.8 L713.9 794.9M572.1 778.6 L553.7 802.3M561.2 794.5 L582.1 806.3 L596.1 815.4M591.5 792.4 L582.1 806.3M553.7 803.3 L573.4 816.4 L595.8 825.8M573.4 816.4 L565.5 829.3 L555.3 847.2M549.9 819.8 L565.5 829.3 L591.5 838.5M543.7 849.7 L555.3 847.2 L559.9 856.6 L584.5 855.3 L612.3 850.5 L629.7 846M591.5 838.2 L584.5 855.3M611.7 808.2 L610.8 813.8M612.3 850.5 L606.3 872.8M695.3 497.9 L710.3 498.3 L712.3 531.3M294.6 866.3 L348.3 865.3M333.1 821.6 L332.6 865.8M348.6 821 L349.3 838.6M307.1 844.1 L332.9 840.6 L359.9 838.8M318 828 L332.3 832.6M305 842.3 L312.8 851 L314.3 866.3 L316 876.6 L317.5 889.1M313.1 851.3 L331.9 848.6M324.3 843 L324.3 849.3M469.5 891.6 L474 925.8M496.5 890 L494 924.6M455.2 450.3 L439.6 454.1M439.6 454.1 L441.6 505.6M397.4 458.3 L372.9 427.6M373.3 430 L397.1 458.3M439.6 454.1 L455.2 450.3M474.1 495.8 L443.6 508.6M441.6 505.6 L439.6 454.1M443.6 508.6 L474.1 495.8M443 553.3 L443.6 508.6M441.9 509.6 L441.6 552.4M414.6 552.4 L408.6 509.9M408.6 509.9 L414.6 552.4M377.6 543.9 L367 509.9M341.6 504.9 L364.6 508.9M367 509.9 L377.6 543.9M353.6 461.3 L355.3 499.9M355.3 499.9 L342 503.9M364.6 508.9 L341.6 504.9M342 503.9 L355.3 499.9M355.3 499.9 L353.6 461.3M548.6 874.3 L577.4 873.7M577.4 873.7 L606.3 872.8M606.3 872.8 L643.2 887.5M643.2 887.5 L645.2 892M591.4 920.5 L587.4 922.5M587.4 922.5 L591.3 923.7M645.6 893 L644.2 888.3M586.1 609 L593.3 622.5M593.3 622.5 L583.5 620M583.5 620 L548.6 621.3M621.9 631.1 L595.1 623.5M595.1 623.5 L593.3 622.5M593.3 622.5 L586.1 609M548.6 621.3 L583.5 620M583.5 620 L583.6 650.3M583.6 650.3 L555.8 652M583.6 620.3 L593.3 622.5M593.3 622.5 L595.1 623.5M595.1 623.5 L595.1 651M595.1 651 L583.6 650.3M583.6 650.3 L583.6 620.3M555.8 652 L583.6 650.3M583.6 650.3 L595.1 651M595.1 651 L594.8 675.9M594.8 675.9 L556.3 668.4M556.3 668.4 L594.8 675.9M594.8 675.9 L592.8 690.1M592.8 690.1 L564.8 699.4M595.1 623.5 L621.9 631.1M616.8 652.6 L616.7 665.3M616.3 699.3 L593 699.4M593 699.4 L592.8 690.1M592.8 690.1 L594.8 675.9M594.8 675.9 L595.1 651M595.1 651 L595.1 623.5M564.8 699.4 L592.8 690.1M592.8 690.1 L593 699.4M593 699.4 L616.3 699.3M616.6 700.6 L615.1 719.6M615.1 719.6 L611 720.1M618.6 663.6 L618.6 651.3M663.2 682.3 L665.2 696.6M665.2 696.6 L666.9 709.3M666.9 709.3 L615.4 720.2M615.4 720.2 L616.6 700.6M680.7 707.6 L666.9 709.3M666.9 709.3 L665.2 696.6M665.2 696.6 L663.6 682.6M666.9 709.3 L680.7 707.6M667.2 732.9 L666.9 709.3M615.4 720.2 L666.9 709.3M666.9 709.3 L667.2 732.9M655.2 749.4 L636.6 743.6M636.6 743.6 L606.6 737.4M606.5 737.6 L636.6 743.6M636.6 743.6 L655.2 749.4M625.9 816.9 L622.3 814.8M622.3 814.8 L611.7 807.9M611.7 807.9 L608.8 798.3M608.8 798.3 L611.7 807.9M611.7 807.9 L622.3 814.8M643.2 887.5 L606.3 872.8M606.3 872.8 L577.4 873.6M577.4 873.6 L548.7 874.3M794.9 444.7 L767.8 476.3M756.9 489 L695.3 489.3M695.3 489.3 L756.9 489M712.6 533.4 L695.3 529.6M826.5 562.1 L809 548.7M809 548.7 L770.7 542.8M770.7 477.4 L770.7 473.3M770.7 473.3 L795.2 445M694.6 529.9 L711.2 533.4M707.9 539.3 L649.7 542.6M649.7 542.6 L707.9 539.3M768.6 548.6 L768.6 566.6M768.6 566.6 L754.1 569.1M754.1 569.1 L753.3 579.6M771.2 543.3 L809 549.1M809 549.1 L826.5 562.4M755 581.3 L754.9 569.1M754.9 569.1 L769.9 566.9M769.9 566.9 L770.7 552.7M878.1 882.3 L874.1 882.4M874.1 882.4 L873.6 851.3M873.6 851.3 L860.6 853.3M852 854.6 L838 859.6M860.8 854.9 L872.6 852.9M872.6 852.9 L872.6 881.9M838 859.9 L851.6 854.9M873 884.6 L877.2 884.5M182.4 935.2 L166.3 935.6M165.3 937.4 L182.9 936.9M182.9 936.9 L188.2 962.9M189.1 961.9 L184.9 936.9M492.5 277 L501.2 308.8M501.2 308.8 L505 321.2M501.6 319.1 L467.2 298.3M528 307.5 L501.2 308.8M501.2 308.8 L492.5 277M502 309.5 L528 308M530 313 L505.5 321.5M505.5 321.5 L502 309.5M467.2 298.3 L501.6 319.1M505 321.2 L530 313M535.5 335 L473.8 332M473.8 332.5 L535.5 335.5M535.5 335.5 L538 349.5M538 349.5 L536.2 336.2M500.5 365 L476.2 368.8M476.2 370 L502.5 367" fill="none" stroke="#f6e3d0" stroke-width="2.6" stroke-linejoin="round" stroke-linecap="round"/>
<rect x="0" y="0" width="1508" height="440" fill="url(#fade)"/>
<text class="t" transform="translate(451.1,79) scale(0.5545,1)" font-size="87.5" letter-spacing="8.24">HOUSTON AREAS WITH THE HIGHEST</text>
<text class="t" transform="translate(452.1,79) scale(0.5545,1)" font-size="87.5" letter-spacing="8.24">HOUSTON AREAS WITH THE HIGHEST</text>
<text class="t" transform="translate(453.1,79) scale(0.5545,1)" font-size="87.5" letter-spacing="8.24">HOUSTON AREAS WITH THE HIGHEST</text>
<text class="t" transform="translate(454.1,79) scale(0.5545,1)" font-size="87.5" letter-spacing="8.24">HOUSTON AREAS WITH THE HIGHEST</text>
<text class="t" transform="translate(455.1,79) scale(0.5545,1)" font-size="87.5" letter-spacing="8.24">HOUSTON AREAS WITH THE HIGHEST</text>
<text class="t" transform="translate(208.5,162) scale(0.56,1)" font-size="87.5" letter-spacing="8.6">CONCENTRATIONS OF OPPORTUNITY ZONES*</text>
<text class="t" transform="translate(209.5,162) scale(0.56,1)" font-size="87.5" letter-spacing="8.6">CONCENTRATIONS OF OPPORTUNITY ZONES*</text>
<text class="t" transform="translate(210.5,162) scale(0.56,1)" font-size="87.5" letter-spacing="8.6">CONCENTRATIONS OF OPPORTUNITY ZONES*</text>
<text class="t" transform="translate(211.5,162) scale(0.56,1)" font-size="87.5" letter-spacing="8.6">CONCENTRATIONS OF OPPORTUNITY ZONES*</text>
<text class="t" transform="translate(212.5,162) scale(0.56,1)" font-size="87.5" letter-spacing="8.6">CONCENTRATIONS OF OPPORTUNITY ZONES*</text>
<text class="s" transform="translate(107,221) scale(0.92,1)" font-size="27" letter-spacing="1.98">*RANKED BY THE RATIO OF FEDERALLY APPROVED OPPORTUNITY ZONES PER U.S. CENSUS TRACTS</text>
<text class="s" transform="translate(1143,262.8) scale(0.92,1)" font-size="27" letter-spacing="1.9">SOURCE: U.S. TREASURY</text>
</svg>
</body></html>
